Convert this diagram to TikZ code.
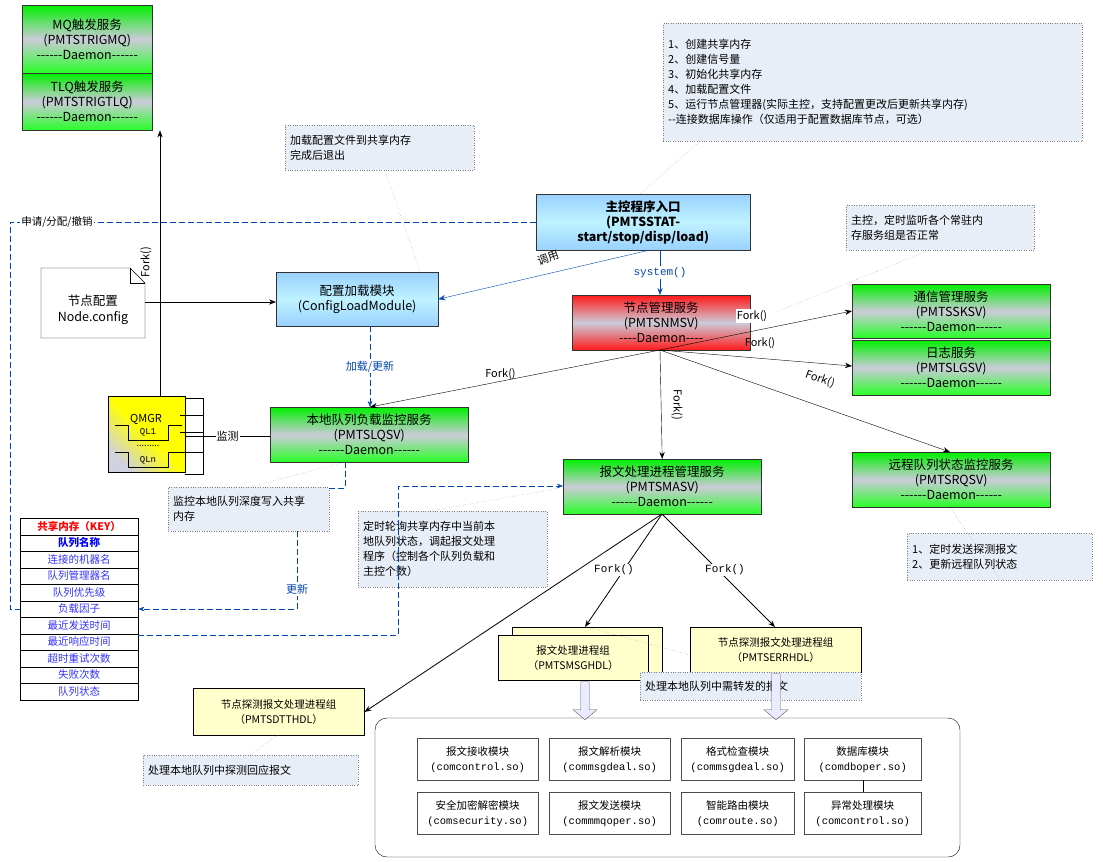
\documentclass[tikz,border=0pt]{standalone}
\usepackage{fontspec}
\setmainfont{Noto Sans CJK SC}
\setmonofont{Liberation Mono}
\usetikzlibrary{arrows.meta, shapes.arrows, calc}
\definecolor{noteFill}{HTML}{E8EEF7}
\definecolor{paleYel}{HTML}{FFFFCC}
\newcommand{\dmn}[1]{-{}-{}-{}-{}-{}-{}#1-{}-{}-{}-{}-{}-}
\tikzset{
  box/.style={draw=black!80, anchor=north west, align=center, inner sep=1pt, font=\fontsize{12.5}{15}\selectfont},
  greenBox/.style={box, top color=green!90!black!60!green, bottom color=green!85, middle color=blue!15!gray!35},
  blueBox/.style={box, top color=blue!45!cyan!40, bottom color=blue!45!cyan!40, middle color=blue!20!cyan!25},
  redBox/.style={box, top color=red!90, bottom color=red!90, middle color=blue!15!gray!35},
  note/.style={draw=gray, dotted, fill=noteFill, anchor=north west, align=left, inner sep=5pt, font=\fontsize{11}{15}\selectfont},
  yelBox/.style={draw=black, fill=paleYel, anchor=north west, align=center, font=\fontsize{10.5}{15}\selectfont},
  modBox/.style={draw=black!70, fill=white, anchor=north west, align=center, font=\fontsize{10.5}{15}\selectfont, minimum width=121, minimum height=42},
  arr/.style={-{Stealth[length=7pt]}, black},
  barr/.style={-{Stealth[length=7pt]}, blue!60!cyan!70!black},
  dsh/.style={blue!60!cyan!70!black, dashed, dash pattern=on 6pt off 3pt},
  dotl/.style={gray, dotted},
  lbl/.style={font=\fontsize{11}{12}\selectfont, inner sep=1pt, fill=white},
  cell/.style={draw=black, minimum width=118, minimum height=16.5, inner sep=0pt, font=\fontsize{10.5}{11}\selectfont, text=blue!80, anchor=north west}
}
\begin{document}
\begin{tikzpicture}[x=1pt,y=-1pt]
\useasboundingbox (0,0) rectangle (1103,862);

% top left services
\node[greenBox, minimum width=130, minimum height=68] (mq) at (22,5) {MQ触发服务\\(PMTSTRIGMQ)\\\dmn{Daemon}};
\node[greenBox, minimum width=130, minimum height=57] (tlq) at (22,73) {TLQ触发服务\\(PMTSTRIGTLQ)\\\dmn{Daemon}};

% notes
\node[note, text width=409, minimum height=118] (n1) at (663,23) {1、创建共享内存\\2、创建信号量\\3、初始化共享内存\\4、加载配置文件\\5、运行节点管理器(实际主控，支持配置更改后更新共享内存)\\{-}{-}连接数据库操作（仅适用于配置数据库节点，可选）};
\node[note, text width=179, minimum height=45] (n2) at (285,125) {加载配置文件到共享内存\\完成后退出};
\node[note, text width=178, minimum height=45] (n3) at (846,205) {主控，定时监听各个常驻内\\存服务组是否正常};

% main
\node[blueBox, minimum width=214, minimum height=56, font=\bfseries\fontsize{12.5}{15}\selectfont] (stat) at (536,194) {主控程序入口\\(PMTSSTAT-\\start/stop/disp/load)};
\node[blueBox, minimum width=162, minimum height=54] (cfg) at (276,272) {配置加载模块\\(ConfigLoadModule)};
\node[redBox, minimum width=178, minimum height=55] (nm) at (572,295) {节点管理服务\\(PMTSNMSV)\\-{}-{}-{}-Daemon-{}-{}-{}-};
\node[greenBox, minimum width=198, minimum height=54] (sk) at (852,284) {通信管理服务\\(PMTSSKSV)\\\dmn{Daemon}};
\node[greenBox, minimum width=198, minimum height=55] (lg) at (852,340) {日志服务\\(PMTSLGSV)\\\dmn{Daemon}};
\node[greenBox, minimum width=198, minimum height=55] (lq) at (270,407) {本地队列负载监控服务\\(PMTSLQSV)\\\dmn{Daemon}};
\node[greenBox, minimum width=198, minimum height=55] (ma) at (563,459) {报文处理进程管理服务\\(PMTSMASV)\\\dmn{Daemon}};
\node[greenBox, minimum width=198, minimum height=55] (rq) at (852,452) {远程队列状态监控服务\\(PMTSRQSV)\\\dmn{Daemon}};

% node config document
\draw[fill=white] (41,268) -- (130,268) -- (145,283) -- (145,338) -- (41,338) -- cycle;
\draw (130,268) -- (130,283) -- (145,283);
\node[font=\fontsize{12.5}{16}\selectfont, align=center] (ncf) at (93,310) {节点配置\\Node.config};

% QMGR
\node[draw=black, minimum width=77, minimum height=76, anchor=north west, left color=blue!20!gray!30, right color=yellow, middle color=yellow, shading angle=135] (qm) at (108,396) {};
\draw (185,398) -- (203,398) -- (203,474) -- (185,474);
\foreach \yy in {415,432,452}{\draw (180,\yy) -- (203,\yy);}
\node[font=\fontsize{11}{12}\selectfont] at (146,419) {QMGR};
\draw (115,425) -- (128,425) -- (128,440) -- (168,440) -- (168,425) -- (182,425);
\node[font=\ttfamily\fontsize{9}{10}\selectfont] at (148,432) {QL1};
\node[font=\fontsize{9}{9}\selectfont] at (148,446) {.........};
\draw (115,452) -- (128,452) -- (128,467) -- (168,467) -- (168,452) -- (182,452);
\node[font=\ttfamily\fontsize{9}{10}\selectfont] at (148,460) {QLn};

% notes middle
\node[note, text width=151, minimum height=44] (n4) at (168,487) {监控本地队列深度写入共享\\内存};
\node[note, text width=179, minimum height=76] (n5) at (358,511) {定时轮询共享内存中当前本\\地队列状态，调起报文处理\\程序（控制各个队列负载和\\主控个数）};
\node[note, text width=175, minimum height=47] (n6) at (907,533) {1、定时发送探测报文\\2、更新远程队列状态};

% table
\node[cell, text=red, font=\bfseries\fontsize{10.5}{11}\selectfont] (t0) at (20,518) {共享内存（KEY）};
\node[cell, font=\bfseries\fontsize{10.5}{11}\selectfont, text=blue] (t1) at (20,534.5) {队列名称};
\foreach \t [count=\i from 2] in {连接的机器名,队列管理器名,队列优先级,负载因子,最近发送时间,最近响应时间,超时重试次数,失败次数,队列状态}{
  \node[cell] (t\i) at (20,{518+16.5*\i}) {\t};
}

% handler groups
\node[yelBox, minimum width=150, minimum height=45] (mgb) at (512,627) {};
\node[yelBox, minimum width=150, minimum height=45] (mg) at (498,635) {报文处理进程组\\（PMTSMSGHDL）};
\node[yelBox, minimum width=171, minimum height=45] (er) at (690,627) {节点探测报文处理进程组\\（PMTSERRHDL）};
\node[note, text width=211, minimum height=28] (n7) at (640,672) {处理本地队列中需转发的报文};
\node[yelBox, minimum width=171, minimum height=47] (dt) at (193,688) {节点探测报文处理进程组\\（PMTSDTTHDL）};
\node[note, text width=205, minimum height=30] (n8) at (143,755) {处理本地队列中探测回应报文};

% module area
\draw[rounded corners=12pt] (375,718) rectangle (960,857);
\node[modBox] (m1) at (417,738) {报文接收模块\\{\ttfamily(comcontrol.so)}};
\node[modBox] (m2) at (549,738) {报文解析模块\\{\ttfamily(commsgdeal.so)}};
\node[modBox, minimum width=113] (m3) at (681,738) {格式检查模块\\{\ttfamily(commsgdeal.so)}};
\node[modBox, minimum width=117] (m4) at (804,738) {数据库模块\\{\ttfamily(comdboper.so)}};
\node[modBox] (m5) at (417,792) {安全加密解密模块\\{\ttfamily(comsecurity.so)}};
\node[modBox] (m6) at (549,792) {报文发送模块\\{\ttfamily(commmqoper.so)}};
\node[modBox, minimum width=113] (m7) at (681,792) {智能路由模块\\{\ttfamily(comroute.so)}};
\node[modBox, minimum width=117] (m8) at (804,792) {异常处理模块\\{\ttfamily(comcontrol.so)}};
\draw (m4.south) -- (m8.north);

% block arrows
\node[single arrow, draw=gray!70!black, fill=blue!8, shape border rotate=270, minimum width=24, single arrow head extend=4pt, single arrow tip angle=100, minimum height=38, inner sep=2pt] (ba1) at (585,699) {};
\node[single arrow, draw=gray!70!black, fill=blue!8, shape border rotate=270, minimum width=24, single arrow head extend=4pt, single arrow tip angle=100, minimum height=46, inner sep=2pt] (ba2) at (776,695) {};

% connectors
\coordinate (qtop) at (160,396);
\draw[arr] (qtop) -- (qtop |- tlq.south);
\node[lbl, rotate=90, fill=none] at (146,262) {Fork()};
\draw[arr] (145,302) -- (cfg.west |- 0,302);
\draw (185,436) -- node[lbl] {监测} (lq.west |- 0,436);

\coordinate (stb) at (650,250);
\draw[barr] (stb) -- (cfg.east);
\node[lbl, fill=none, rotate=20] at (548,258) {调用};
\draw[barr] (660,250) -- node[lbl, font=\ttfamily\fontsize{11}{12}\selectfont] {system()} (660,295);

\draw[dsh] (stat.west |- 0,222) -- (10,222) -- (10,609) -- (t6.west |- 0,609);
\node[lbl, font=\fontsize{10.5}{11}\selectfont] at (57,222) {申请/分配/撤销};
\draw[dsh, -{Stealth[length=6pt]}] (370,326) -- node[lbl] {加载/更新} (370,407);
\draw[dsh] (345,462) -- (345,488) -- (329,488);
\draw[dsh, -{Stealth[length=6pt]}] (297,531) -- node[lbl, pos=0.75] {更新} (297,609) -- (t6.east |- 0,609);
\draw[dsh, -{Stealth[length=6pt]}] (t7.east |- 0,635) -- (398,635) -- (398,486) -- (ma.west |- 0,486);

\coordinate (nmb) at (660,350);
\draw[arr] (nmb) -- node[lbl, fill=none, above, pos=0.55] {Fork()} (370,407);
\draw[arr] (nmb) -- (sk.west |- 0,311);
\node[lbl] at (752,316) {Fork()};
\draw[arr] (nmb) -- (lg.west |- 0,366);
\node[lbl, fill=none] at (760,343) {Fork()};
\draw[arr] (nmb) -- (ma.north |- 0,459);
\node[lbl, rotate=-90, fill=none] at (677,405) {Fork()};
\draw[arr] (nmb) -- (950,452);
\node[lbl, rotate=-20, fill=none] at (820,379) {Fork()};

\coordinate (mab) at (662,514);
\draw[arr, thick] (mab) -- (dt.east |- 0,712);
\draw[arr, thick] (mab) -- (585,627);
\draw[arr, thick] (mab) -- (775,627);
\node[lbl, font=\ttfamily\fontsize{11}{12}\selectfont] at (614,570) {Fork()};
\node[lbl, font=\ttfamily\fontsize{11}{12}\selectfont] at (725,570) {Fork()};

% dotted leaders
\draw[dotl] (385,170) -- (420,272);
\draw[dotl] (700,141) -- (640,194);
\draw[dotl] (930,250) -- (776,312);
\draw[dotl] (250,487) -- (345,462);
\draw[dotl] (430,511) -- (560,488);
\draw[dotl] (1000,580) -- (950,507);
\draw[dotl] (590,628) -- (690,655);
\draw[dotl] (250,755) -- (278,735);
\end{tikzpicture}
\end{document}
